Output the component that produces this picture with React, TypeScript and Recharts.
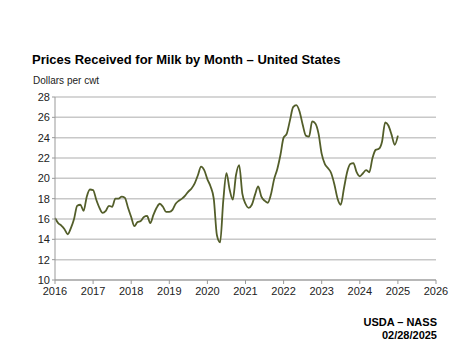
import { LineChart, Line, XAxis, YAxis, CartesianGrid } from "recharts"

// all-milk price, dollars per cwt, monthly Jan 2016 .. Jan 2025
const startYear = 2016
const prices2016 = [16.1, 15.6, 15.35, 15.0, 14.5, 15.1, 16.0, 17.3, 17.4, 16.8, 18.2, 18.9]
const prices2017 = [18.85, 17.9, 17.1, 16.6, 16.8, 17.3, 17.2, 18.0, 18.0, 18.2, 18.1, 17.1]
const prices2018 = [16.2, 15.3, 15.7, 15.8, 16.2, 16.3, 15.6, 16.4, 17.1, 17.5, 17.2, 16.7]
const prices2019 = [16.7, 16.9, 17.5, 17.8, 18.0, 18.3, 18.7, 19.0, 19.5, 20.3, 21.15, 20.8]
const prices2020 = [19.9, 19.2, 18.0, 14.4, 13.7, 17.8, 20.5, 18.9, 17.9, 20.3, 21.3, 18.5]
const prices2021 = [17.5, 17.1, 17.4, 18.4, 19.2, 18.2, 17.8, 17.6, 18.4, 19.9, 20.9, 22.3]
const prices2022 = [24.0, 24.4, 25.7, 27.0, 27.2, 26.6, 25.3, 24.2, 24.1, 25.6, 25.4, 24.4]
const prices2023 = [22.4, 21.4, 21.0, 20.5, 19.4, 18.0, 17.4, 19.0, 20.6, 21.4, 21.5, 20.6]
const prices2024 = [20.2, 20.5, 20.8, 20.6, 22.0, 22.8, 22.9, 23.6, 25.5, 25.2, 24.3, 23.3]
const prices2025 = [24.2]

const yearTicks = [2016, 2017, 2018, 2019, 2020, 2021, 2022, 2023, 2024, 2025, 2026]
const priceTicks = [10, 12, 14, 16, 18, 20, 22, 24, 26, 28]

const allYears = [
  prices2016, prices2017, prices2018, prices2019, prices2020,
  prices2021, prices2022, prices2023, prices2024, prices2025,
]

const data = allYears.flatMap((months, yi) =>
  months.map((price, m) => ({ t: startYear + yi + m / 12, price }))
)

const font = "Arial, 'Liberation Sans', sans-serif"

export default function App() {
  return (
    <div style={{ position: "absolute", left: 0, top: 0, width: 474, height: 355, background: "#fff", fontFamily: font }}>
      <div style={{ position: "absolute", left: 32, top: 52, fontSize: 13, fontWeight: "bold", color: "#000", whiteSpace: "nowrap" }}>
        Prices Received for Milk by Month – United States
      </div>
      <div style={{ position: "absolute", left: 33, top: 75, fontSize: 10, color: "#222", whiteSpace: "nowrap" }}>
        Dollars per cwt
      </div>
      <LineChart
        width={474}
        height={355}
        data={data}
        margin={{ top: 97, right: 38, left: 35, bottom: 55 }}
        style={{ position: "absolute", left: 0, top: 0 }}
      >
        <CartesianGrid vertical={false} stroke="#c8c8c8" strokeWidth={1.5} />
        <XAxis
          dataKey="t"
          type="number"
          domain={[2016, 2026]}
          ticks={yearTicks}
          interval={0}
          height={20}
          tickSize={4}
          stroke="#999"
          tick={{ fontSize: 11, fill: "#222", fontFamily: font }}
          tickMargin={3}
        />
        <YAxis
          type="number"
          domain={[10, 28]}
          ticks={priceTicks}
          interval={0}
          width={20}
          tickSize={3}
          stroke="#999"
          tick={{ fontSize: 11, fill: "#222", fontFamily: font }}
          tickMargin={2}
        />
        <Line
          type="monotone"
          dataKey="price"
          stroke="#535e2a"
          strokeWidth={1.8}
          dot={false}
          isAnimationActive={false}
        />
      </LineChart>
      <div style={{ position: "absolute", right: 37, top: 316, fontSize: 11, fontWeight: "bold", color: "#000", textAlign: "right", lineHeight: "13px" }}>
        USDA – NASS
        <br />
        02/28/2025
      </div>
    </div>
  )
}
